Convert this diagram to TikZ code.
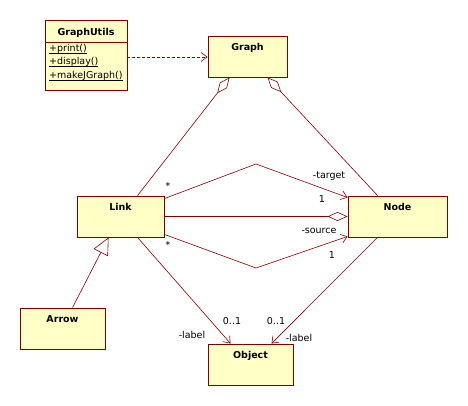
\documentclass[tikz,border=0pt]{standalone}
\usepackage{fontspec}
\setmainfont{DejaVu Sans}
\usetikzlibrary{arrows.meta}
\definecolor{umlline}{HTML}{800000}
\definecolor{umlfill}{HTML}{FFFFC6}
\newcommand\methul[1]{\underline{\smash{#1}}}
\tikzset{
  cls/.style={draw=umlline, fill=umlfill, line width=0.9pt, minimum height=41pt, inner sep=0pt},
  ttl/.style={font=\fontsize{9.5}{11}\selectfont\bfseries, anchor=north, yshift=-4pt},
  txt/.style={font=\fontsize{9.5}{11}\selectfont, inner sep=0pt},
  conn/.style={draw=umlline, line width=0.6pt},
  opn/.tip={Straight Barb[length=6pt,width=9pt,line width=0.6pt]},
  agg/.tip={Diamond[open,length=20pt,width=9pt,line width=0.6pt]},
  gen/.tip={Triangle[open,length=17pt,width=16pt,line width=0.6pt]},
}
\begin{document}
\begin{tikzpicture}[x=1pt,y=-1pt]
\useasboundingbox (0,0) rectangle (468,406);
% classes
\node[cls, minimum width=82pt, minimum height=70pt] (gu) at (86,55) {};
\draw[umlline, line width=0.9pt] (gu.west |- 0,42) -- (gu.east |- 0,42);
\node[ttl] (gut) at (86,21) {GraphUtils};
\node[txt, anchor=west] (m1) at (49,53) {\methul{+print()}};
\node[txt, anchor=west] (m2) at (49,66) {\methul{+display()}};
\node[txt, anchor=west] (m3) at (49,80) {\methul{+makeJGraph()}};

\node[cls, minimum width=79pt] (graph) at (247.5,56.5) {};
\node[ttl] (grapht) at (graph.north) {Graph};
\node[cls, minimum width=87pt] (link) at (120.5,216.5) {};
\node[ttl] (linkt) at (link.north) {Link};
\node[cls, minimum width=99pt] (nd) at (397.5,216.5) {};
\node[ttl] (ndt) at (nd.north) {Node};
\node[cls, minimum width=85pt] (arrow) at (62.5,328.5) {};
\node[ttl] (arrowt) at (arrow.north) {Arrow};
\node[cls, minimum width=85pt] (obj) at (250.5,364.5) {};
\node[ttl] (objt) at (obj.north) {Object};

% connectors
\draw[conn, dash pattern=on 3pt off 2pt, -opn] (gu.east |- 0,57) -- (graph.west |- 0,57);
\draw[conn, agg-] ([xshift=22pt]graph.south west) -- ([xshift=61pt]link.north west);
\draw[conn, agg-] ([xshift=60pt]graph.south west) -- ([xshift=30pt]nd.north west);

\coordinate (tmid) at (256,164);
\coordinate (smid) at (256,268);
\draw[conn, -opn] ([yshift=-3pt]link.north east) -- (tmid) -- ([yshift=-2pt]nd.north west);
\draw[conn, -agg] (link.east) -- (nd.west);
\draw[conn, -opn] ([yshift=3pt]link.south east) -- (smid) -- ([yshift=1pt]nd.south west);

\draw[conn, -gen] ([xshift=53pt]arrow.north west) -- ([xshift=32pt]link.south west);
\draw[conn, -opn] ([xshift=61pt]link.south west) -- ([xshift=23pt]obj.north west);
\draw[conn, -opn] ([xshift=30pt]nd.south west) -- ([xshift=64pt]obj.north west);

% labels
\node[txt] (s1) at (168,186) {*};
\node[txt] (s2) at (168,245) {*};
\node[txt] (tg) at (329,176) {-target};
\node[txt] (t1) at (322,199) {1};
\node[txt] (sc) at (319,231) {-source};
\node[txt] (s1n) at (332,255) {1};
\node[txt] (lo1) at (232,321) {0..1};
\node[txt] (ll1) at (192,335) {-label};
\node[txt] (lo2) at (276,321) {0..1};
\node[txt] (ll2) at (299,338) {-label};
\end{tikzpicture}
\end{document}
